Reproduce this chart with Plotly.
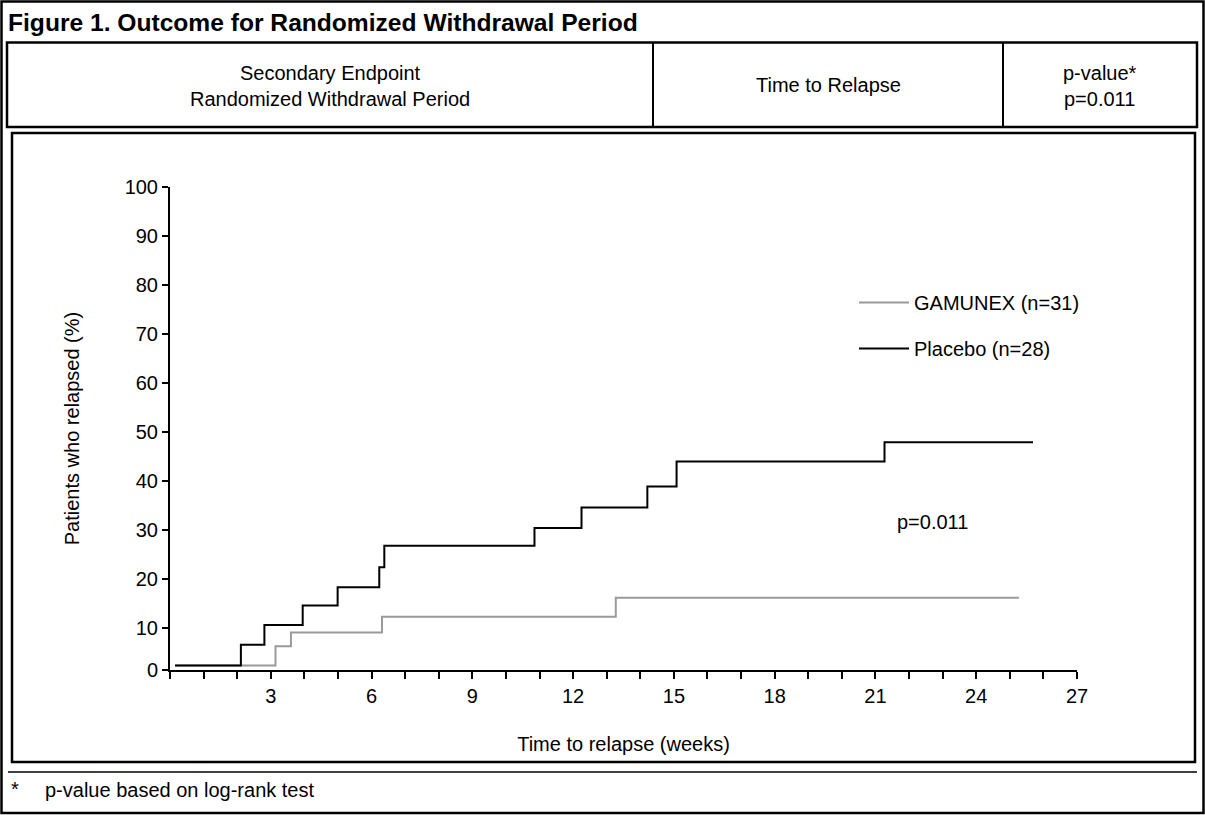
import plotly.graph_objects as go

# ---- data ----
gamunex_weeks = [0.15, 3.14, 3.60, 6.31, 13.27, 25.27]
gamunex_pct = [2.35, 6.3, 9.1, 12.3, 16.2, 16.2]

placebo_weeks = [0.15, 2.11, 2.81, 3.95, 4.99, 6.23, 6.38, 10.85, 12.25, 14.21, 15.08, 21.27, 25.69]
placebo_pct = [2.35, 6.6, 10.6, 14.6, 18.3, 22.4, 26.8, 30.4, 34.6, 38.9, 44.0, 47.9, 47.9]

x_ticks = list(range(0, 28))
x_ticklabels = [str(v) if (v % 3 == 0 and v > 0) else "" for v in x_ticks]
y_base = 1.43
y_ticks = [y_base, 10, 20, 30, 40, 50, 60, 70, 80, 90, 100]
y_ticklabels = ["0", "10", "20", "30", "40", "50", "60", "70", "80", "90", "100"]

header_left = "Secondary Endpoint<br>Randomized Withdrawal Period"
header_mid = "Time to Relapse"
header_right = "p-value*<br>p=0.011"
title_text = "Figure 1. Outcome for Randomized Withdrawal Period"
footnote_text = "p-value based on log-rank test"

# ---- layout geometry ----
W, H = 1205, 815
L, R, T, B = 170, 128, 187, 145
PW, PH = W - L - R, H - T - B


def px(x):
    return (x - L) / PW


def py(y):
    return 1 - (y - T) / PH


FONT = "Liberation Sans, Arial, Helvetica, sans-serif"

fig = go.Figure()
fig.add_trace(go.Scatter(x=gamunex_weeks, y=gamunex_pct, mode="lines", line_shape="hv",
                         line=dict(color="#9a9a9a", width=2), name="GAMUNEX (n=31)",
                         legendgroup="g1"))
fig.add_trace(go.Scatter(x=placebo_weeks, y=placebo_pct, mode="lines", line_shape="hv",
                         line=dict(color="#000000", width=2), name="Placebo (n=28)",
                         legendgroup="g2"))

shapes = []
def rect(x0, y0, x1, y1, w=2):
    shapes.append(dict(type="rect", xref="paper", yref="paper", x0=px(x0), x1=px(x1),
                       y0=py(y0), y1=py(y1), line=dict(color="black", width=w), layer="above"))

def line(x0, y0, x1, y1, w=2):
    shapes.append(dict(type="line", xref="paper", yref="paper", x0=px(x0), x1=px(x1),
                       y0=py(y0), y1=py(y1), line=dict(color="black", width=w), layer="above"))

rect(1.5, 1.5, 1203.5, 813, 2.5)      # outer frame
rect(7, 42.5, 1197, 127, 2.5)         # header table
line(653, 42.5, 653, 127, 2)
line(1003, 42.5, 1003, 127, 2)
rect(12, 133, 1195, 762, 2.5)         # chart panel
line(8, 772, 1197, 772, 1.5)          # footnote separator

ann = []
def text(x, y, s, size=20, xanchor="center", bold=False):
    ann.append(dict(xref="paper", yref="paper", x=px(x), y=py(y), text=("<b>%s</b>" % s) if bold else s,
                    showarrow=False, xanchor=xanchor, yanchor="middle", align="center",
                    font=dict(family=FONT, size=size, color="black")))

text(6, 22, title_text, size=24.6, xanchor="left", bold=True)
text(330, 86, header_left)
text(828, 85, header_mid)
text(1100, 86, header_right)
text(9, 789, "*", xanchor="left")
text(43, 790, footnote_text, xanchor="left")
ann.append(dict(xref="x", yref="y", x=22.7, y=31.7, text="p=0.011", showarrow=False,
                font=dict(family=FONT, size=20, color="black")))

fig.update_layout(
    width=W, height=H, autosize=False,
    margin=dict(l=L, r=R, t=T, b=B, pad=0),
    paper_bgcolor="white", plot_bgcolor="white",
    font=dict(family=FONT, size=20, color="black"),
    shapes=shapes, annotations=ann,
    showlegend=True,
    legend=dict(x=px(854), y=py(283), xanchor="left", yanchor="top",
                traceorder="grouped", tracegroupgap=17, itemwidth=50,
                bgcolor="rgba(0,0,0,0)", font=dict(family=FONT, size=20, color="black")),
    xaxis=dict(range=[0, 27], tickmode="array", tickvals=x_ticks, ticktext=x_ticklabels,
               showline=True, linecolor="black", linewidth=2, ticks="outside", ticklen=7,
               tickwidth=2, tickcolor="black", showgrid=False, zeroline=False,
               title=dict(text="Time to relapse (weeks)", standoff=31,
                          font=dict(family=FONT, size=20)),
               automargin=False),
    yaxis=dict(range=[y_base, 100], tickmode="array", tickvals=y_ticks, ticktext=y_ticklabels,
               showline=True, linecolor="black", linewidth=2, ticks="outside", ticklen=6,
               tickwidth=2, tickcolor="black", showgrid=False, zeroline=False,
               title=dict(text="Patients who relapsed (%)", standoff=40,
                          font=dict(family=FONT, size=20)),
               automargin=False),
)

fig.write_html("out.html")
